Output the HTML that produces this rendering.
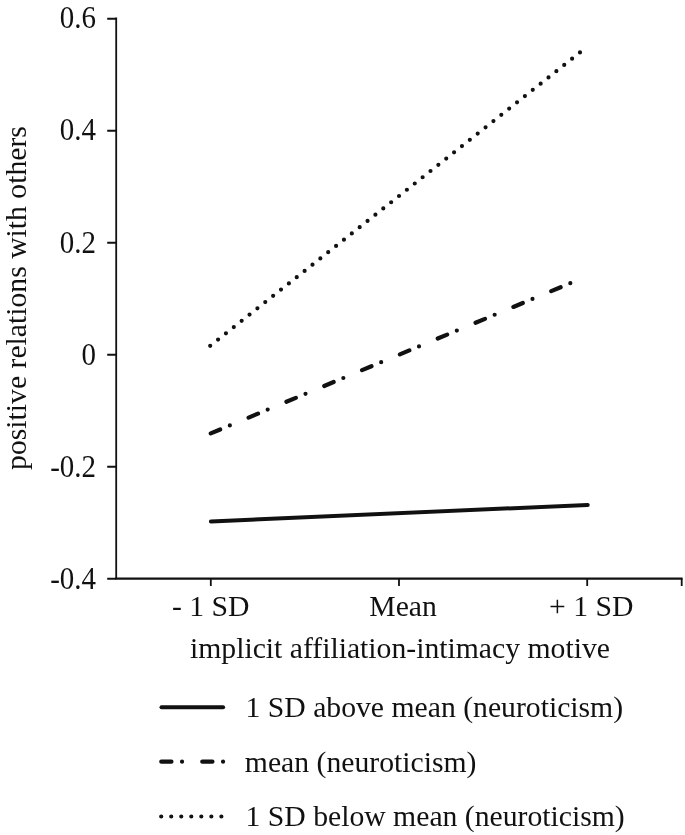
<!DOCTYPE html>
<html><head><meta charset="utf-8">
<style>
html,body{margin:0;padding:0;background:#fff;}
svg{display:block;}
text{font-family:"Liberation Serif",serif;font-size:29.7px;fill:#111;}
</style></head><body>
<svg width="685" height="835" viewBox="0 0 685 835">
<rect width="685" height="835" fill="#fff"/>
<g stroke="#111" stroke-width="1.8" fill="none">
<path d="M116.2 17.6V578.6"/>
<path d="M115.3 578.7H682.6" stroke-width="2.2"/>
<path d="M107.2 18.7H116.2M107.2 130.7H116.2M107.2 242.8H116.2M107.2 354.8H116.2M107.2 466.8H116.2M107.2 578.7H116.2" stroke-width="2.1"/>
<path d="M210.8 578.6V586M399 578.6V586M587.2 578.6V586M681.7 578.6V586"/>
</g>
<g text-anchor="end">
<text transform="translate(96,28.4) scale(0.975,1.07)">0.6</text>
<text transform="translate(96,140.4) scale(0.975,1.07)">0.4</text>
<text transform="translate(96,252.5) scale(0.975,1.07)">0.2</text>
<text transform="translate(96,364.5) scale(0.975,1.07)">0</text>
<text transform="translate(96,476.5) scale(0.975,1.07)">-0.2</text>
<text transform="translate(96,588.5) scale(0.975,1.07)">-0.4</text>
</g>
<text x="172" y="616">- 1 SD</text>
<text x="403.1" y="616" text-anchor="middle">Mean</text>
<text x="549" y="616">+ 1 SD</text>
<text x="190" y="657.7">implicit affiliation-intimacy motive</text>
<text transform="translate(25.8,298) rotate(-90)" text-anchor="middle">positive relations with others</text>
<g stroke="#111" fill="none" stroke-linecap="round">
<line x1="210.9" y1="521.5" x2="587.7" y2="504.9" stroke-width="4"/>
<line x1="210.75" y1="433.4" x2="570.8" y2="282.95" stroke-width="4.2" stroke-dasharray="10.2 10.5 0 20.3"/>
<line x1="210.2" y1="345.8" x2="580.01" y2="52.39" stroke-width="4.2" stroke-dasharray="0 10.043"/>
<line x1="161.5" y1="707.3" x2="223.1" y2="707.3" stroke-width="4"/>
<line x1="161.25" y1="761.7" x2="223.4" y2="761.7" stroke-width="4.2" stroke-dasharray="10.2 10.6 0 20.2"/>
<line x1="161.2" y1="816.5" x2="221.5" y2="816.5" stroke-width="4.2" stroke-dasharray="0 10.03"/>
</g>
<text x="245.5" y="716.8">1 SD above mean (neuroticism)</text>
<text x="244.8" y="772">mean (neuroticism)</text>
<text x="245.5" y="826.2">1 SD below mean (neuroticism)</text>
</svg>
</body></html>
